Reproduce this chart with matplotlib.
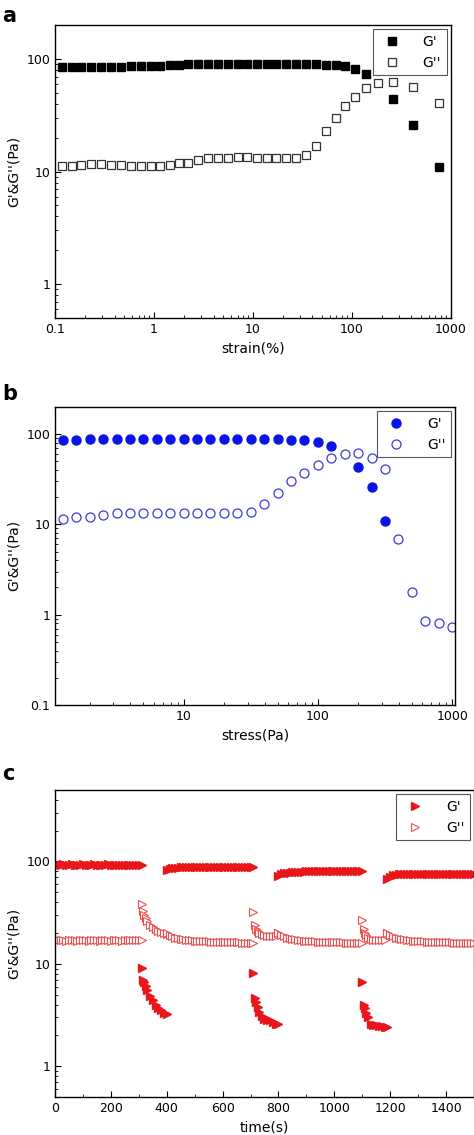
import matplotlib
matplotlib.use("Agg")
import matplotlib.pyplot as plt
import numpy as np

# ---- panel a data ----
strain = [0.117,0.147,0.185,0.233,0.293,0.369,0.465,0.585,0.737,0.927,1.14,1.44,1.81,2.23,2.81,3.54,4.46,5.61,7.07,8.7,10.9,13.8,17.3,21.8,27.5,34.6,43.5,54.8,69.0,85.0,107,138,186,263,415,760]
Gp_a = [85,85,85,85,85,85,85,86,86,86,87,88,89,90,90,90,90,90,90,90,90,90,90,90,90,91,90,89,88,86,82,73,None,44,26,11]
Gpp_a = [11.2,11.3,11.4,11.6,11.6,11.4,11.5,11.3,11.2,11.3,11.3,11.4,11.9,12.0,12.8,13.2,13.3,13.3,13.4,13.4,13.2,13.3,13.3,13.2,13.2,14.0,17.0,23,30,38,46,55,61,62,56,41]

# ---- panel b data ----
stress = [1.26,1.58,2.0,2.51,3.16,3.98,5.01,6.31,7.94,10,12.6,15.8,20,25.1,31.6,39.8,50.1,63.1,79.4,100,126,158,200,251,316,398,501,631,794,1000]
Gp_b = [86,87,88,88,88,88,88,89,89,88,88,88,88,88,89,89,88,87,85,82,73,None,43,26,11,None,None,None,None,None]
Gpp_b = [11.5,12,12,12.8,13.2,13.3,13.3,13.4,13.4,13.2,13.3,13.3,13.2,13.2,13.8,17,22.5,30,37,45,54,60,61,55,41,6.8,1.8,0.85,0.8,0.73]

# ---- panel c data (time sweep segments) ----
t1 = list(range(0, 311, 10))
Gp_c1 = [93,93,93,94,93,93,94,93,93,93,94,93,93,93,94,93,93,93,93,94,93,93,93,93,93,93,93,93,93,93,92,92]
Gpp_c1 = [17,17,17.2,17,16.8,17,17.2,17,16.9,17,17.1,17,16.8,17,17.2,17,16.9,17,17,17.1,16.9,17,17,17.2,16.8,17,17,17.1,17,17,17,17]
t2 = [310,315,320,325,330,340,350,360,370,380,390,400]
Gp_c2 = [9.2,7.0,6.6,6.1,5.5,4.8,4.4,4.0,3.7,3.5,3.3,3.2]
Gpp_c2 = [38,33,30,28,26,24,23,22,21,20.5,20,19.5]
t3 = list(range(400, 711, 10))
Gp_c3 = [82,85,86,87,87,88,88,88,88,88,89,89,89,89,89,89,89,89,89,89,89,89,89,89,89,89,89,89,89,89,89,88]
Gpp_c3 = [20,19,18.5,18,17.8,17.6,17.4,17.2,17,17,16.9,16.8,16.8,16.7,16.6,16.6,16.5,16.5,16.4,16.4,16.4,16.3,16.3,16.3,16.2,16.2,16.2,16.1,16.1,16.1,16.0,16.0]
t4 = [710,715,720,725,730,740,750,760,770,780,790,800]
Gp_c4 = [8.2,4.6,4.2,3.8,3.4,3.1,2.9,2.8,2.8,2.7,2.6,2.6]
Gpp_c4 = [32,24,22,21,20,19.5,19,18.8,18.6,18.5,18.5,20]
t5 = list(range(800, 1101, 10))
Gp_c5 = [72,76,77,78,78,79,79,79,79,79,80,80,80,80,80,80,80,80,80,80,80,80,80,80,80,80,80,80,80,80,80]
Gpp_c5 = [20,19,18.5,18,17.7,17.5,17.3,17.1,17,16.9,16.8,16.7,16.6,16.6,16.5,16.5,16.4,16.4,16.3,16.3,16.3,16.2,16.2,16.2,16.1,16.1,16.1,16.0,16.0,16.0,16.0]
t6 = [1100,1105,1110,1115,1120,1130,1140,1150,1160,1170,1180,1190]
Gp_c6 = [6.7,4.0,3.7,3.3,3.0,2.6,2.5,2.5,2.45,2.45,2.4,2.4]
Gpp_c6 = [27,22,20,19,18,17.5,17.2,17,17,17,17.2,20]
t7 = list(range(1190, 1501, 10))
Gp_c7 = [68,71,73,74,75,75,75,76,76,76,76,76,76,76,76,76,76,76,76,76,76,76,76,76,76,76,76,76,76,76,76,76]
Gpp_c7 = [20,19,18.5,18,17.7,17.5,17.3,17.1,17,16.9,16.8,16.7,16.6,16.6,16.5,16.5,16.4,16.4,16.3,16.3,16.3,16.2,16.2,16.2,16.1,16.1,16.1,16.0,16.0,16.0,16.0,16.0]

def nz(xs, ys):
    p = [(x, y) for x, y in zip(xs, ys) if y is not None]
    return [a for a, b in p], [b for a, b in p]

plt.rcParams['font.family'] = ['DejaVu Sans']
fig = plt.figure(figsize=(4.74, 11.35), dpi=100)
axa = fig.add_axes([0.116, 0.7198, 0.835, 0.258])
axb = fig.add_axes([0.116, 0.3789, 0.844, 0.2626])
axc = fig.add_axes([0.116, 0.0335, 0.884, 0.2705])

def style(ax):
    ax.tick_params(which='both', direction='in', labelsize=9, top=False, right=False)
    ax.tick_params(which='major', length=4)
    ax.tick_params(which='minor', length=2)
    for s in ax.spines.values():
        s.set_linewidth(1.0)
    ax.set_ylabel("G'&G''(Pa)", fontsize=10)

# a
x, y = nz(strain, Gp_a)
axa.plot(x, y, 's', color='black', ms=6, label="G'")
axa.plot(strain, Gpp_a, 's', mfc='white', mec='#333333', mew=0.9, ms=6, label="G''")
axa.set_xscale('log'); axa.set_yscale('log')
axa.set_xlim(0.1, 1000); axa.set_ylim(0.5, 200)
axa.set_xticks([0.1, 1, 10, 100, 1000]); axa.set_xticklabels(['0.1', '1', '10', '100', '1000'])
axa.set_yticks([1, 10, 100]); axa.set_yticklabels(['1', '10', '100'])
axa.set_xlabel('strain(%)', fontsize=10)
style(axa)

# b
x, y = nz(stress, Gp_b)
axb.plot(x, y, 'o', color='#0a14e6', ms=6.5, label="G'")
axb.plot(stress, Gpp_b, 'o', mfc='white', mec='#3a3ad6', mew=0.9, ms=6.5, label="G''")
axb.set_xscale('log'); axb.set_yscale('log')
axb.set_xlim(1.1, 1050); axb.set_ylim(0.1, 200)
axb.set_xticks([10, 100, 1000]); axb.set_xticklabels(['10', '100', '1000'])
axb.set_yticks([0.1, 1, 10, 100]); axb.set_yticklabels(['0.1', '1', '10', '100'])
axb.set_xlabel('stress(Pa)', fontsize=10)
style(axb)

# c
red = '#e8151b'
first = True
for tt, gp in [(t1, Gp_c1), (t2, Gp_c2), (t3, Gp_c3), (t4, Gp_c4), (t5, Gp_c5), (t6, Gp_c6), (t7, Gp_c7)]:
    axc.plot(tt, gp, '>', color=red, ms=6, label="G'" if first else None)
    first = False
first = True
for tt, gpp in [(t1, Gpp_c1), (t2, Gpp_c2), (t3, Gpp_c3), (t4, Gpp_c4), (t5, Gpp_c5), (t6, Gpp_c6), (t7, Gpp_c7)]:
    axc.plot(tt, gpp, '>', mfc='white', mec='#e85050', mew=0.8, ms=6, label="G''" if first else None)
    first = False
axc.set_yscale('log')
axc.set_xlim(0, 1500); axc.set_ylim(0.5, 500)
axc.set_xticks(range(0, 1401, 200))
axc.set_xticks(range(100, 1501, 200), minor=True)
axc.set_yticks([1, 10, 100]); axc.set_yticklabels(['1', '10', '100'])
axc.set_xlabel('time(s)', fontsize=10)
style(axc)

for ax in (axa, axb, axc):
    leg = ax.legend(loc='upper right', fontsize=10, fancybox=False, edgecolor='#555555',
                    handletextpad=1.2, borderaxespad=0.3, framealpha=1)
    leg.get_frame().set_linewidth(0.8)

fig.text(0.005, 0.995, 'a', fontsize=15, fontweight='bold', va='top')
fig.text(0.005, 0.662, 'b', fontsize=15, fontweight='bold', va='top')
fig.text(0.005, 0.327, 'c', fontsize=15, fontweight='bold', va='top')

fig.savefig('out.png', dpi=100)
